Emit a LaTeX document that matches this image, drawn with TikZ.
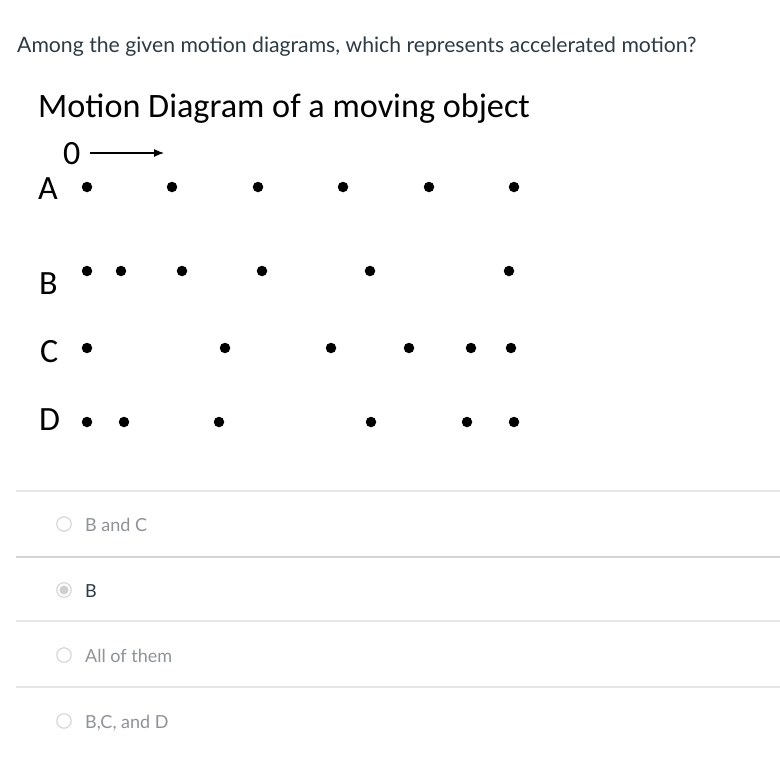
\documentclass[tikz,border=0pt]{standalone}
\usepackage{fontspec}
\setmainfont{Lato}
\newfontfamily\calib{Carlito}
\usetikzlibrary{arrows.meta}
\definecolor{qtext}{HTML}{2D3B45}
\definecolor{opttext}{HTML}{8F9397}
\definecolor{sepline}{HTML}{E6E6E6}
\definecolor{sepdark}{HTML}{D4D4D4}
\definecolor{radioborder}{HTML}{D0D0D0}
\definecolor{radiofill}{HTML}{CFCFCF}
\tikzset{
  txt/.style={inner sep=0pt, anchor=base west},
  dot/.style={circle, fill=black, inner sep=0pt, minimum size=10.5pt},
  lbl/.style={inner sep=0pt, anchor=base west, font=\calib\fontsize{34}{40}\selectfont},
  opt/.style={inner sep=0pt, anchor=base west, text=opttext, font=\fontsize{18}{22}\selectfont},
  radio/.style={circle, draw=radioborder, line width=1pt, fill=white, inner sep=0pt, minimum size=14.5pt},
  sep/.style={draw=sepline, line width=1.5pt}
}
\begin{document}
\begin{tikzpicture}[x=1pt,y=-1pt]
\useasboundingbox (0,0) rectangle (780,758);
\fill[white] (0,0) rectangle (780,758);
% question
\node[txt, text=qtext, font=\fontsize{21.2}{25}\selectfont] (q) at (17,52) {Among the given motion diagrams, which represents accelerated motion?};
% title
\node[txt, font=\calib\fontsize{34.2}{40}\selectfont] (title) at (38,117) {Motion Diagram of a moving object};
% zero and arrow
\node[lbl] (zero) at (63,164) {0};
\coordinate (arrowend) at (164,153);
\draw[line width=1.1pt, -{Latex[length=10pt,width=8pt]}] (90,153) coordinate (arrowstart) -- (arrowend);
% row labels
\node[lbl] (la) at (38,199) {A};
\node[lbl] (lb) at (39,294) {B};
\node[lbl] (lc) at (40,362) {C};
\node[lbl] (ld) at (39,430) {D};
% row A
\foreach \x [count=\i] in {87,172,258,343,429,514} \node[dot] (a\i) at (\x,187) {};
% row B
\foreach \x [count=\i] in {87,121,182,262,370,509} \node[dot] (b\i) at (\x,271) {};
% row C
\foreach \x [count=\i] in {87,225,331,409,471,511} \node[dot] (c\i) at (\x,348) {};
% row D
\foreach \x [count=\i] in {87,124,219,371,467,514} \node[dot] (d\i) at (\x,422) {};
% separators
\draw[sep] (16,491) coordinate (s1a) -- (780,491) coordinate (s1b);
\draw[sep, draw=sepdark] (16,557) coordinate (s2a) -- (780,557) coordinate (s2b);
\draw[sep] (16,621) coordinate (s3a) -- (780,621) coordinate (s3b);
\draw[sep] (16,687) coordinate (s4a) -- (780,687) coordinate (s4b);
% options
\node[radio] (r1) at (64,524) {};
\node[opt] (o1) at (85,531) {B and C};
\node[radio] (r2) at (64,590) {};
\node[circle, fill=radiofill, inner sep=0pt, minimum size=9pt] (r2in) at (r2) {};
\node[opt, text=qtext] (o2) at (85,597) {B};
\node[radio] (r3) at (64,655) {};
\node[opt] (o3) at (85,662) {All of them};
\node[radio] (r4) at (64,721) {};
\node[opt] (o4) at (85,728) {B,C, and D};
\end{tikzpicture}
\end{document}
